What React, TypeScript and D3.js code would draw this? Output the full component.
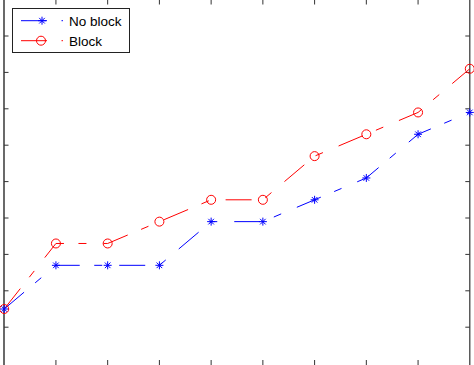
import React from "react";
import * as d3 from "d3";

const categories = [1, 2, 3, 4, 5, 6, 7, 8, 9, 10];
const noBlock = [1.5, 2.7, 2.7, 2.7, 3.9, 3.9, 4.5, 5.1, 6.3, 6.9];
const block = [1.5, 3.3, 3.3, 3.9, 4.5, 4.5, 5.7, 6.3, 6.9, 8.1];
const yTicks = [1, 2, 3, 4, 5, 6, 7, 8, 9];
const seriesNames = ["No block", "Block"];

const W = 474;
const H = 365;
const DASH = "26,14.5,8,17";

function Star({ x, y, color }: { x: number; y: number; color: string }) {
  const a = 4;
  const b = 2.8;
  return (
    <g stroke={color} strokeWidth={1}>
      <line x1={x - a} y1={y} x2={x + a} y2={y} />
      <line x1={x} y1={y - a} x2={x} y2={y + a} />
      <line x1={x - b} y1={y - b} x2={x + b} y2={y + b} />
      <line x1={x - b} y1={y + b} x2={x + b} y2={y - b} />
    </g>
  );
}

export default function App() {
  const x = d3
    .scaleLinear()
    .domain([categories[0], categories[categories.length - 1]])
    .range([4.2, 469.8]);
  const y = d3.scaleLinear().domain([0, 10]).range([363.6, -0.4]);

  const line = d3
    .line<number>()
    .x((_, i) => x(categories[i]))
    .y((d) => y(d));

  const left = 4;
  const right = 469.8;
  const top = -0.4;
  const bottom = 365.5;

  return (
    <svg
      width={W}
      height={H}
      style={{ position: "absolute", left: 0, top: 0, background: "#fff" }}
      fontFamily="'Liberation Sans', Arial, sans-serif"
    >
      <rect x={0} y={0} width={W} height={H} fill="#fff" />
      {/* frame */}
      <line x1={left} y1={top} x2={left} y2={bottom} stroke="#1a1a1a" strokeWidth={1.3} />
      <line x1={right} y1={top} x2={right} y2={bottom} stroke="#333" strokeWidth={1.2} />
      {/* x ticks top & bottom */}
      {categories.slice(1, -1).map((c) => (
        <g key={"xt" + c} stroke="#333" strokeWidth={1}>
          <line x1={x(c)} y1={0} x2={x(c)} y2={4.5} />
          <line x1={x(c)} y1={360} x2={x(c)} y2={365} />
        </g>
      ))}
      {/* y ticks left & right */}
      {yTicks.map((t) => (
        <g key={"yt" + t} stroke="#333" strokeWidth={1}>
          <line x1={left} y1={y(t)} x2={left + 4.5} y2={y(t)} />
          <line x1={right - 4.5} y1={y(t)} x2={right} y2={y(t)} />
        </g>
      ))}

      {/* series lines */}
      <path d={line(noBlock) || ""} fill="none" stroke="#0000ff" strokeWidth={1} strokeDasharray={DASH} />
      <path d={line(block) || ""} fill="none" stroke="#ff0000" strokeWidth={1} strokeDasharray={DASH} />

      {/* markers */}
      {block.map((v, i) => (
        <circle key={"c" + i} cx={x(categories[i])} cy={y(v)} r={4.5} fill="none" stroke="#ff0000" strokeWidth={1} />
      ))}
      {noBlock.map((v, i) => (
        <Star key={"s" + i} x={x(categories[i])} y={y(v)} color="#0000ff" />
      ))}

      {/* legend */}
      <rect x={12.5} y={8.5} width={117} height={44} fill="#fff" stroke="#222" strokeWidth={1} />
      <line x1={21} y1={20.7} x2={63} y2={20.7} stroke="#0000ff" strokeWidth={1} strokeDasharray={DASH} />
      <Star x={42} y={20.7} color="#0000ff" />
      <line x1={21} y1={40.7} x2={63} y2={40.7} stroke="#ff0000" strokeWidth={1} strokeDasharray={DASH} />
      <circle cx={41} cy={40.7} r={4.5} fill="none" stroke="#ff0000" strokeWidth={1} />
      <text x={69} y={25.7} fontSize={13.5} fill="#000">
        {seriesNames[0]}
      </text>
      <text x={69} y={45.7} fontSize={13.5} fill="#000">
        {seriesNames[1]}
      </text>
    </svg>
  );
}
